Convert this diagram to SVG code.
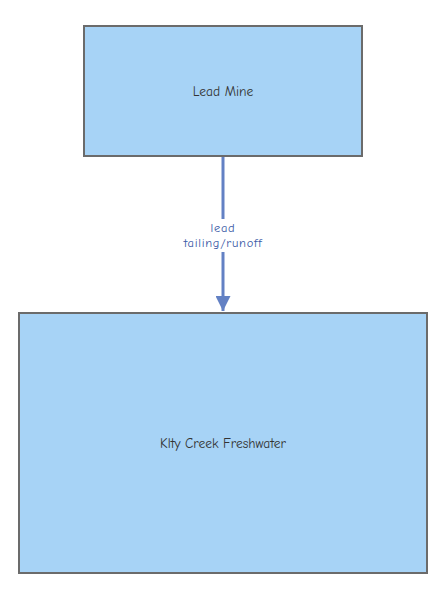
<svg xmlns="http://www.w3.org/2000/svg" width="448" height="600" viewBox="0 0 448 600">
<style>
.node rect{fill:#a7d3f6;stroke:#6b6b6b;stroke-width:2}
.node text{font-family:"Comic Sans MS","Comic Neue","DejaVu Sans","Liberation Sans",sans-serif;font-size:13.5px;fill:#333;text-anchor:middle;dominant-baseline:central}
.edge line{stroke:#6381c4;stroke-width:3}
.elabel{font-family:"Comic Sans MS","Comic Neue","DejaVu Sans","Liberation Sans",sans-serif;font-size:12.5px;letter-spacing:0.7px;fill:#3a5aa6;text-anchor:middle}
</style>
<defs>
<marker id="arr" viewBox="0 0 10 10" refX="10" refY="5" markerWidth="5" markerHeight="5" markerUnits="strokeWidth" orient="auto">
<path d="M0,0 L10,5 L0,10 Z" fill="#6381c4"/>
</marker>
</defs>
<rect width="448" height="600" fill="#fff"/>
<g id="connectors" class="edge">
<line x1="223" y1="157" x2="223" y2="311" marker-end="url(#arr)"/>
<rect x="178" y="219" width="90" height="33" fill="#fff"/>
<text class="elabel" x="223" y="232">lead</text>
<text class="elabel" x="223" y="247">tailing/runoff</text>
</g>
<g id="lead-mine" class="node">
<rect x="84" y="26" width="278" height="130"/>
<text x="223" y="91">Lead Mine</text>
</g>
<g id="kity-creek" class="node">
<rect x="19" y="313" width="408" height="260"/>
<text x="223" y="443">Klty Creek Freshwater</text>
</g>
</svg>
